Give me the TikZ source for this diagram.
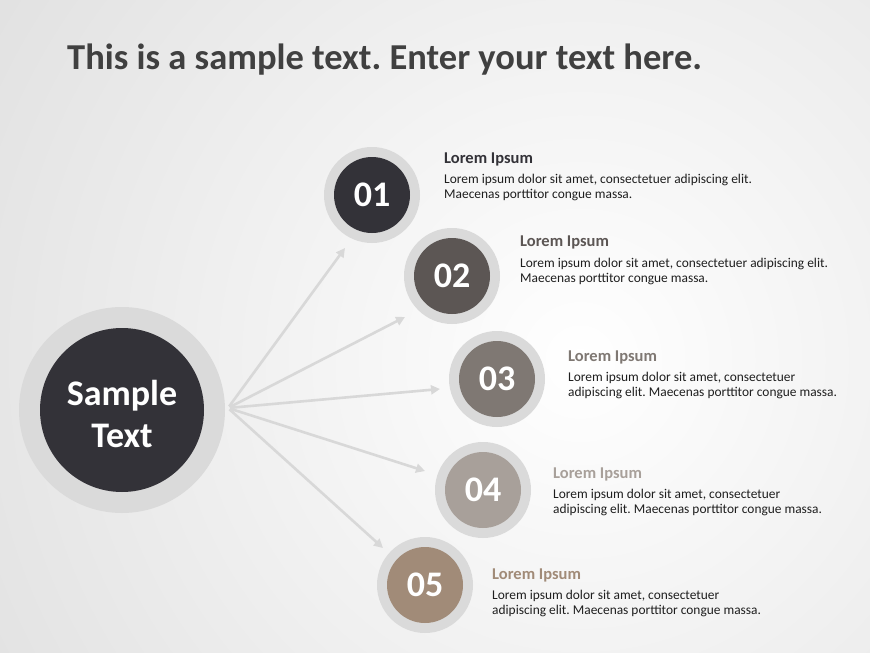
\documentclass[tikz,border=0pt]{standalone}
\usepackage{fontspec}
\setmainfont{Carlito}
\usetikzlibrary{arrows.meta}
\frenchspacing
\definecolor{bgout}{RGB}{210,210,210}
\definecolor{ringc}{RGB}{218,218,218}
\definecolor{arrc}{RGB}{216,216,216}
\definecolor{titlec}{RGB}{64,64,64}
\definecolor{bodyc}{RGB}{30,30,30}
\definecolor{cA}{RGB}{51,50,56}
\definecolor{cB}{RGB}{92,86,84}
\definecolor{cC}{RGB}{127,120,115}
\definecolor{cD}{RGB}{168,160,154}
\definecolor{cE}{RGB}{161,139,120}
\tikzset{
  ring/.style={circle,fill=ringc,inner sep=0pt,minimum size=#1},
  disc/.style={circle,fill=#1,inner sep=0pt,minimum size=76pt,text=white,font=\bfseries\fontsize{36}{36}\selectfont},
  head/.style={anchor=base west,inner sep=0pt,text=#1,font=\bfseries\fontsize{16.5}{18}\selectfont},
  body/.style={anchor=base west,inner sep=0pt,text=bodyc,font=\fontsize{13.4}{16}\selectfont},
  arr/.style={draw=arrc,line width=2.6pt,-{Triangle[length=9pt,width=9pt]},shorten <=2pt}
}
\begin{document}
\begin{tikzpicture}[x=1pt,y=-1pt]
\useasboundingbox (0,0) rectangle (870,653);
\begin{scope}
\clip (0,0) rectangle (870,653);
\shade[inner color=white,outer color=bgout] (580,360) circle (1050);
\end{scope}
% title
\node[anchor=base west,inner sep=0pt,text=titlec,font=\bfseries\fontsize{36.5}{38}\selectfont] (title) at (67,69) {This is a sample text. Enter your text here.};
% main circle
\node[ring=206pt] (mring) at (122,410) {};
\node[circle,fill=cA,inner sep=0pt,minimum size=164pt] (main) at (122,410) {};
\node[inner sep=0pt,text=white,align=center,font=\bfseries\fontsize{36}{42}\selectfont] (mtext) at (122,414) {Sample\\Text};
\coordinate (src) at (228,408);
% arrow tips
\coordinate (t1) at (345,248);
\coordinate (t2) at (405,317);
\coordinate (t3) at (440,389);
\coordinate (t4) at (425,471);
\coordinate (t5) at (383,548);
\foreach \t in {t1,t2,t3,t4,t5} \draw[arr] (src) -- (\t);
% numbered circles
\node[ring=96pt] (r1) at (372,195) {};
\node[disc=cA] (n1) at (372,195) {01};
\node[ring=96pt] (r2) at (452,276) {};
\node[disc=cB] (n2) at (452,276) {02};
\node[ring=96pt] (r3) at (497,379) {};
\node[disc=cC] (n3) at (497,379) {03};
\node[ring=96pt] (r4) at (483,490) {};
\node[disc=cD] (n4) at (483,490) {04};
\node[ring=96pt] (r5) at (425,585) {};
\node[disc=cE] (n5) at (425,585) {05};
% texts
\node[head=cA] (h1) at (444,163) {Lorem Ipsum};
\node[body] (b1a) at (444,183.5) {Lorem ipsum dolor sit amet, consectetuer adipiscing elit.};
\node[body] (b1b) at (444,198.5) {Maecenas porttitor congue massa.};
\node[head=cB] (h2) at (520,246.5) {Lorem Ipsum};
\node[body] (b2a) at (520,267) {Lorem ipsum dolor sit amet, consectetuer adipiscing elit.};
\node[body] (b2b) at (520,282) {Maecenas porttitor congue massa.};
\node[head=cC] (h3) at (568,361) {Lorem Ipsum};
\node[body] (b3a) at (568,381.5) {Lorem ipsum dolor sit amet, consectetuer};
\node[body] (b3b) at (568,396.5) {adipiscing elit. Maecenas porttitor congue massa.};
\node[head=cD] (h4) at (553,478) {Lorem Ipsum};
\node[body] (b4a) at (553,498.5) {Lorem ipsum dolor sit amet, consectetuer};
\node[body] (b4b) at (553,513.5) {adipiscing elit. Maecenas porttitor congue massa.};
\node[head=cE] (h5) at (492,579) {Lorem Ipsum};
\node[body] (b5a) at (492,599.5) {Lorem ipsum dolor sit amet, consectetuer};
\node[body] (b5b) at (492,614.5) {adipiscing elit. Maecenas porttitor congue massa.};
\end{tikzpicture}
\end{document}
